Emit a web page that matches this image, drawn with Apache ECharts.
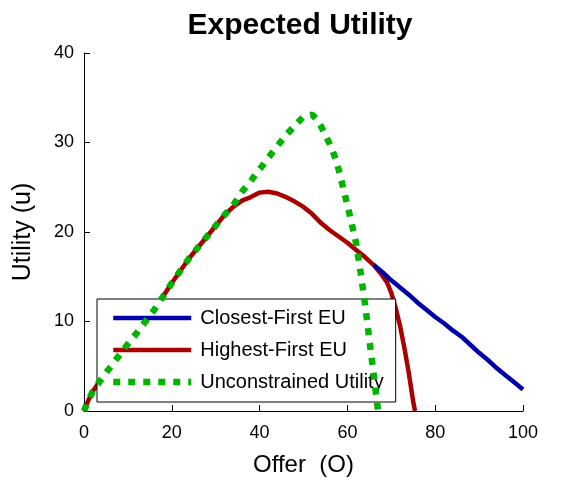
<!DOCTYPE html>
<html>
<head>
<meta charset="utf-8">
<script src="https://cdn.jsdelivr.net/npm/echarts@6/dist/echarts.min.js"></script>
<style>
  html, body { margin: 0; padding: 0; background: #fff; }
  #chart { width: 578px; height: 485px; }
</style>
</head>
<body>
<div id="chart"></div>
<script>
// Highest-First EU (red)
var highestX = [0, 1, 2, 4, 6, 8, 10, 12, 14, 16, 18, 20, 22, 24, 26, 28, 30, 32, 34, 36, 38, 40, 42, 44, 46, 48, 50, 52, 54, 56, 58, 60, 62, 64, 66, 68, 69, 70, 71, 72, 73, 74, 75, 75.4];
var highestY = [0, 1.2, 2.2, 3.6, 4.9, 6.2, 7.5, 8.7, 10.0, 11.3, 12.8, 14.3, 15.7, 17.1, 18.3, 19.5, 20.7, 21.9, 22.8, 23.5, 23.9, 24.4, 24.5, 24.3, 23.9, 23.4, 22.8, 22.0, 21.0, 20.2, 19.5, 18.8, 18.0, 17.2, 16.3, 15.1, 14.4, 13.2, 11.5, 9.5, 7.0, 4.2, 1.0, 0];

// Unconstrained Utility (green dotted)
var unconX = [0, 1, 2, 4, 6, 8, 10, 12, 14, 16, 18, 20, 22, 24, 26, 28, 30, 32, 34, 36, 38, 40, 42, 44, 46, 48, 50, 52, 53, 54, 55, 56, 57, 58, 59, 60, 61, 62, 63, 64, 65, 66, 67];
var unconY = [0, 1.2, 2.2, 3.6, 4.9, 6.2, 7.5, 8.7, 10.0, 11.3, 12.8, 14.3, 15.7, 17.1, 18.3, 19.5, 20.7, 21.9, 23.0, 24.5, 25.7, 27.0, 28.3, 29.6, 30.8, 31.9, 32.9, 33.1, 32.6, 31.8, 30.8, 29.8, 28.6, 27.0, 25.0, 23.0, 20.9, 18.7, 15.5, 12.0, 8.0, 4.0, 0];

// Closest-First EU (blue)
var closestX = [66, 68, 70, 72, 74, 76, 78, 80, 82, 84, 86, 88, 90, 92, 94, 96, 98, 100];
var closestY = [16.3, 15.5, 14.6, 13.8, 13.0, 12.1, 11.3, 10.5, 9.8, 9.0, 8.3, 7.4, 6.5, 5.7, 4.8, 4.0, 3.2, 2.4];

function pairs(xs, ys) {
  return xs.map(function (x, i) { return [x, ys[i]]; });
}

var chart = echarts.init(document.getElementById('chart'));
var font = 'Arial, "Liberation Sans", sans-serif';

var option = {
  animation: false,
  backgroundColor: '#fff',
  title: {
    text: 'Expected Utility',
    left: 295,
    textAlign: 'center',
    top: 6,
    textStyle: { fontFamily: font, fontSize: 30, fontWeight: 'bold', color: '#000' }
  },
  grid: { left: 84, right: 55, top: 53, bottom: 74 },
  legend: {
    orient: 'vertical',
    left: 97,
    top: 299,
    padding: [9, 12, 10, 13],
    itemGap: 12,
    itemWidth: 78,
    itemHeight: 20,
    backgroundColor: '#fff',
    borderColor: '#000',
    borderWidth: 1,
    borderRadius: 0,
    itemStyle: { opacity: 0 },
    lineStyle: { width: 'inherit' },
    textStyle: { fontFamily: font, fontSize: 20, color: '#000', padding: [0, 0, 0, 4] },
    data: ['Closest-First EU', 'Highest-First EU', 'Unconstrained Utility']
  },
  xAxis: {
    type: 'value',
    min: 0,
    max: 100,
    interval: 20,
    name: 'Offer  (O)',
    nameLocation: 'middle',
    nameGap: 42,
    nameTextStyle: { fontFamily: font, fontSize: 24, color: '#000' },
    axisLine: { lineStyle: { color: '#000', width: 1 } },
    axisTick: { inside: true, length: 6, lineStyle: { color: '#000' } },
    axisLabel: { fontFamily: font, fontSize: 18, color: '#000', margin: 13 },
    splitLine: { show: false }
  },
  yAxis: {
    type: 'value',
    min: 0,
    max: 40,
    interval: 10,
    name: 'Utility (u)',
    nameLocation: 'middle',
    nameGap: 48,
    nameTextStyle: { fontFamily: font, fontSize: 25, color: '#000' },
    axisLine: { show: true, lineStyle: { color: '#000', width: 1 } },
    axisTick: { show: true, inside: true, length: 6, lineStyle: { color: '#000' } },
    axisLabel: { fontFamily: font, fontSize: 18, color: '#000', margin: 10 },
    splitLine: { show: false }
  },
  series: [
    {
      name: 'Closest-First EU',
      type: 'line',
      symbol: 'none',
      z: 3,
      data: pairs(closestX, closestY),
      lineStyle: { color: '#0000aa', width: 4.5 },
      itemStyle: { color: '#0000aa' }
    },
    {
      name: 'Highest-First EU',
      type: 'line',
      symbol: 'none',
      z: 2,
      data: pairs(highestX, highestY),
      lineStyle: { color: '#aa0000', width: 4.5 },
      itemStyle: { color: '#aa0000' }
    },
    {
      name: 'Unconstrained Utility',
      type: 'line',
      symbol: 'none',
      z: 4,
      data: pairs(unconX, unconY),
      lineStyle: { color: '#00b400', width: 6.5, type: [7, 8], cap: 'butt' },
      itemStyle: { color: '#00b400' }
    }
  ]
};

chart.setOption(option);
</script>
</body>
</html>
